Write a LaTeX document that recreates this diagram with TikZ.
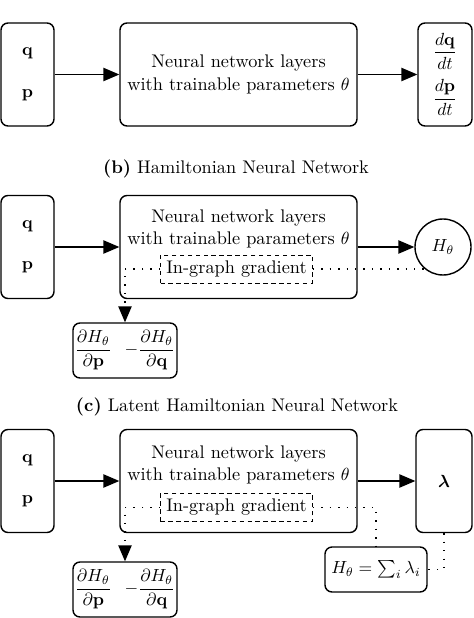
\documentclass[tikz,border=0pt]{standalone}
\usepackage{amsmath}
\usetikzlibrary{arrows.meta}
\begin{document}
\begin{tikzpicture}[
	every node/.style={ font=\fontsize{10.4pt}{12.6pt}\selectfont },
	box/.style={ draw, thick, rounded corners=4pt, inner sep=0pt, minimum height=2.06cm },
	boxg/.style={ draw, thick, rounded corners=4pt, inner sep=1pt, minimum width=2.08cm, minimum height=1.1cm },
	boxd/.style={ draw, thin, dash pattern=on 2.5pt off 2pt },
	txt/.style={ align=center, inner sep=0pt },
	arr/.style={ thick, -{Triangle[length=9pt,width=7.5pt]} },
	dots/.style={ thick, loosely dotted }
]
\useasboundingbox (0,0) rectangle (9.48,-12.36);

% (a)
\node[box, minimum width=1.06cm, align=center] at (0.55,-1.49) (aIn) {$\mathbf{q}$\\[11pt]$\mathbf{p}$};
\node[box, minimum width=4.74cm] at (4.77,-1.49) (aNN) {};
\node[txt] at (4.77,-1.49) (aTxt) {Neural network layers\\with trainable parameters $\theta$};
\node[box, minimum width=1.08cm, align=center] at (8.90,-1.49) (aOut) {$\displaystyle\frac{d\mathbf{q}}{dt}$\\[5pt]$\displaystyle\frac{d\mathbf{p}}{dt}$};

\draw[arr] (aIn) -- (aNN);
\draw[arr] (aNN) -- (aOut);

% (b)
\node at (4.72,-3.38) (bTitle) {\textbf{(b)} Hamiltonian Neural Network};
\node[box, minimum width=1.06cm, align=center] at (0.55,-4.94) (bIn) {$\mathbf{q}$\\[11pt]$\mathbf{p}$};
\node[box, minimum width=4.74cm] at (4.77,-4.94) (bNN) {};
\node[txt] at (4.77,-4.58) (bTxt) {Neural network layers\\with trainable parameters $\theta$};
\node[boxd] at (4.73,-5.38) (bGrad) {In-graph gradient};
\node[circle, draw, thick, minimum size=1.12cm, inner sep=0pt] at (8.86,-4.94) (bH) {$H_\theta$};
\node[boxg] at (2.50,-7.01) (bdH) {$\dfrac{\partial H_\theta}{\partial \mathbf{p}}\;\;\,{-}\dfrac{\partial H_\theta}{\partial \mathbf{q}}$};

\draw[arr] (bIn) -- (bNN);
\draw[arr] (bNN) -- (bH);
\draw[dots] (bGrad.east) -- (bGrad.east -| bH.228);
\draw[dots, -{Triangle[length=9pt,width=7.5pt]}] (bGrad.west) -| (bdH.north);

% (c)
\node at (4.74,-8.14) (cTitle) {\textbf{(c)} Latent Hamiltonian Neural Network};
\node[box, minimum width=1.06cm, align=center] at (0.55,-9.62) (cIn) {$\mathbf{q}$\\[11pt]$\mathbf{p}$};
\node[box, minimum width=4.74cm] at (4.77,-9.62) (cNN) {};
\node[txt] at (4.77,-9.29) (cTxt) {Neural network layers\\with trainable parameters $\theta$};
\node[boxd] at (4.73,-10.15) (cGrad) {In-graph gradient};
\node[box, minimum width=1.12cm] at (8.88,-9.62) (cLam) {$\boldsymbol{\lambda}$};
\node[box, minimum width=2.04cm, minimum height=0.9cm] at (7.52,-11.39) (cSum) {$H_\theta = \sum_i \lambda_i$};
\node[boxg] at (2.50,-11.79) (cdH) {$\dfrac{\partial H_\theta}{\partial \mathbf{p}}\;\;\,{-}\dfrac{\partial H_\theta}{\partial \mathbf{q}}$};

\draw[arr] (cIn) -- (cNN);
\draw[arr] (cNN) -- (cLam);
\draw[dots] (cGrad.east) -| (cSum.north);
\draw[dots] (cLam.south) |- (cSum.east);
\draw[dots, -{Triangle[length=9pt,width=7.5pt]}] (cGrad.west) -| (cdH.north);

\end{tikzpicture}
\end{document}
